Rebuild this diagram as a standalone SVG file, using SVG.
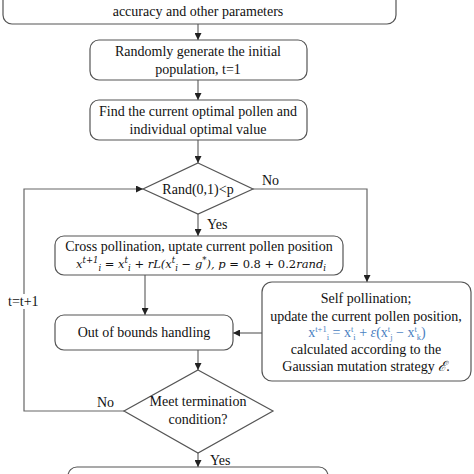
<svg xmlns="http://www.w3.org/2000/svg" width="474" height="474" viewBox="0 0 474 474">
<defs>
<marker id="ah" viewBox="0 0 10 10" refX="10" refY="5" markerWidth="7" markerHeight="7" orient="auto" markerUnits="userSpaceOnUse">
<path d="M0,0 L10,5 L0,10 z" fill="#222"/>
</marker>
<style>
.box{fill:#fff;stroke:#555;stroke-width:1.2}
.ln{fill:none;stroke:#666;stroke-width:1.2}
.t{font-family:"Liberation Serif","Times New Roman",serif;font-size:14px;fill:#111;text-anchor:middle}
.l{font-family:"Liberation Serif","Times New Roman",serif;font-size:14px;fill:#111}
.m{font-family:"DejaVu Serif","Liberation Serif",serif;font-style:italic;font-size:11.5px;fill:#111;text-anchor:middle}
.b{font-family:"Liberation Serif","DejaVu Serif",serif;font-size:14px;fill:#4a7fc1;text-anchor:middle}
.s{font-size:8.5px}
.n{font-style:normal}
</style>
</defs>
<rect width="474" height="474" fill="#fff"/>

<g id="connectors">
<line class="ln" x1="198" y1="24" x2="198" y2="40" marker-end="url(#ah)"/>
<line class="ln" x1="198" y1="80" x2="198" y2="100" marker-end="url(#ah)"/>
<line class="ln" x1="198" y1="140" x2="198" y2="163" marker-end="url(#ah)"/>
<line class="ln" x1="198" y1="213" x2="198" y2="236" marker-end="url(#ah)"/>
<polyline class="ln" points="253,189 367,189 367,282" marker-end="url(#ah)"/>
<line class="ln" x1="145" y1="275" x2="145" y2="315" marker-end="url(#ah)"/>
<line class="ln" x1="262" y1="333" x2="233" y2="333" marker-end="url(#ah)"/>
<line class="ln" x1="198" y1="350" x2="198" y2="370" marker-end="url(#ah)"/>
<polyline class="ln" points="124,411 24,411 24,189 143,189" marker-end="url(#ah)"/>
<line class="ln" x1="198" y1="453" x2="198" y2="467" marker-end="url(#ah)"/>
<rect x="7" y="294" width="34" height="15" fill="#fff"/>
<text class="l" x="8" y="306">t=t+1</text>
<text class="l" x="262" y="185">No</text>
<text class="l" x="207" y="229">Yes</text>
<text class="l" x="97" y="407">No</text>
<text class="l" x="210" y="465">Yes</text>
</g>

<g id="init">
<rect class="box" x="3" y="-40" width="393" height="64" rx="9"/>
<text class="t" x="198" y="16">accuracy and other parameters</text>
</g>

<g id="generate">
<rect class="box" x="90" y="40" width="217" height="40" rx="9"/>
<text class="t" x="198" y="56">Randomly generate the initial</text>
<text class="t" x="198" y="74">population, t=1</text>
</g>

<g id="find">
<rect class="box" x="90" y="100" width="217" height="40" rx="9"/>
<text class="t" x="198" y="116">Find the current optimal pollen and</text>
<text class="t" x="198" y="134">individual optimal value</text>
</g>

<g id="rand">
<polygon class="box" points="198,163 253,189 198,214 143,189"/>
<text class="t" x="198" y="194">Rand(0,1)&lt;p</text>
</g>

<g id="cross">
<rect class="box" x="55" y="236" width="288" height="39" rx="9"/>
<text class="t" x="199" y="251">Cross pollination, uptate current pollen position</text>
<text class="m" x="201" y="268">x<tspan class="s" dy="-5">t+1</tspan><tspan class="s" dy="8">i</tspan><tspan dy="-3"> = x</tspan><tspan class="s" dy="-5">t</tspan><tspan class="s" dy="8">i</tspan><tspan dy="-3"> + rL(x</tspan><tspan class="s" dy="-5">t</tspan><tspan class="s" dy="8">i</tspan><tspan dy="-3"> − g</tspan><tspan class="s" dy="-5">*</tspan><tspan dy="5">), p = </tspan><tspan class="n">0.8 + 0.2</tspan><tspan>rand</tspan><tspan class="s" dy="3">i</tspan></text>
</g>

<g id="self">
<rect class="box" x="262" y="282" width="209" height="99" rx="10"/>
<text class="t" x="366" y="303">Self pollination;</text>
<text class="t" x="366" y="321">update the current pollen position,</text>
<text class="b" x="367" y="337">x<tspan class="s" dy="-5">t+1</tspan><tspan class="s" dy="8">i</tspan><tspan dy="-3"> = x</tspan><tspan class="s" dy="-5">t</tspan><tspan class="s" dy="8">i</tspan><tspan dy="-3"> + </tspan><tspan font-style="italic">ε</tspan><tspan>(x</tspan><tspan class="s" dy="-5">t</tspan><tspan class="s" dy="8">j</tspan><tspan dy="-3"> − x</tspan><tspan class="s" dy="-5">t</tspan><tspan class="s" dy="8">k</tspan><tspan dy="-3">)</tspan></text>
<text class="t" x="366" y="354">calculated  according to the</text>
<text class="t" x="366" y="371">Gaussian mutation strategy <tspan font-style="italic">ℰ</tspan>.</text>
</g>

<g id="bounds">
<rect class="box" x="55" y="315" width="178" height="35" rx="9"/>
<text class="t" x="144" y="337">Out of bounds handling</text>
</g>

<g id="terminate">
<polygon class="box" points="198,370 273,411 198,453 124,411"/>
<text class="t" x="198" y="406">Meet termination</text>
<text class="t" x="198" y="424">condition?</text>
</g>

<g id="output">
<rect class="box" x="68" y="467" width="260" height="40" rx="9"/>
</g>
</svg>
